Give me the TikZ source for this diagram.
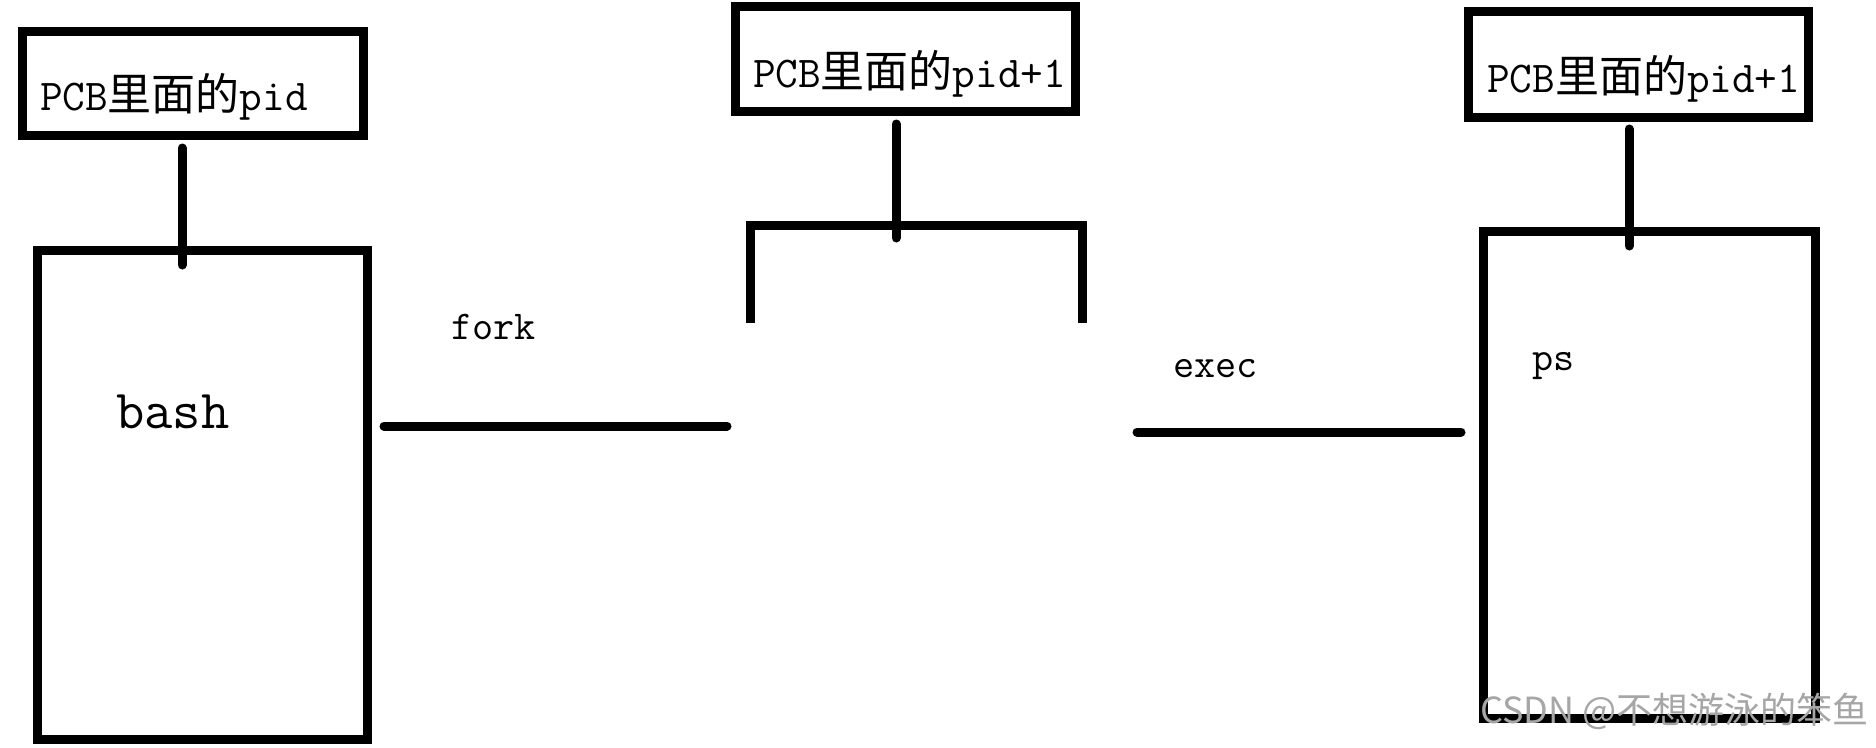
\documentclass[tikz,border=0pt]{standalone}
\usepackage{fontspec}
\newfontfamily\cjk{Noto Sans CJK SC}
\tikzset{
  heavy/.style={line width=9pt},
  boxnode/.style={draw, line width=9pt, inner sep=0pt, outer sep=0pt, line join=miter},
  conn/.style={line width=9pt, line cap=round},
  lbl/.style={inner sep=0pt, outer sep=0pt, anchor=base west, font=\ttfamily\fontsize{44}{44}\selectfont},
  mid/.style={inner sep=0pt, outer sep=0pt, anchor=base west, font=\ttfamily\fontsize{41}{41}\selectfont}
}
\begin{document}
\begin{tikzpicture}[x=1pt,y=-1pt]
\useasboundingbox (0,0) rectangle (1876,747);
\fill[white] (0,0) rectangle (1876,747);

% boxes
\node[boxnode, minimum width=341pt, minimum height=104pt] (pcbA) at (193,83.5) {};
\node[boxnode, minimum width=330pt, minimum height=489pt] (bash) at (202.5,495) {};
\node[boxnode, minimum width=340pt, minimum height=105pt] (pcbB) at (905.5,59) {};
\node[boxnode, minimum width=340pt, minimum height=106pt] (pcbC) at (1638.5,64.5) {};
\node[boxnode, minimum width=332pt, minimum height=487pt] (ps) at (1649.5,475) {};

% texts
\node[lbl] (tA) at (40,110) {PCB{\cjk 里面的}pid};
\node[lbl] (tB) at (753,87) {PCB{\cjk 里面的}pid+1};
\node[lbl] (tC) at (1487,92) {PCB{\cjk 里面的}pid+1};
\node[inner sep=0pt, anchor=base west, font=\ttfamily\fontsize{55}{55}\selectfont] (tbash) at (116,428) {bash};
\node[mid] (tfork) at (451,339) {fork};
\node[mid] (texec) at (1173,377) {exec};
\node[mid] (tps) at (1532,370) {ps};

% connector coordinates
\coordinate (a1) at (182,148);
\coordinate (a2) at (182,265);
\coordinate (b1) at (896,124);
\coordinate (b2) at (896,238);
\coordinate (c1) at (1629,129);
\coordinate (c2) at (1629,246);
\coordinate (f1) at (384,426);
\coordinate (f2) at (727,426);
\coordinate (e1) at (1137,432);
\coordinate (e2) at (1461,432);
\coordinate (k1) at (750,323);
\coordinate (k2) at (750,225);
\coordinate (k3) at (1082,225);
\coordinate (k4) at (1082,323);

\draw[conn] (a1) -- (a2);
\draw[conn] (b1) -- (b2);
\draw[conn] (c1) -- (c2);
\draw[conn] (f1) -- (f2);
\draw[conn] (e1) -- (e2);
\draw[heavy, line join=miter] (k1) -- (k2) -- (k3) -- (k4);

% watermark
\node[inner sep=0pt, anchor=base west, text=black!35, font=\cjk\fontsize{36}{36}\selectfont] (wm) at (1480,723) {CSDN @不想游泳的笨鱼};
\end{tikzpicture}
\end{document}
